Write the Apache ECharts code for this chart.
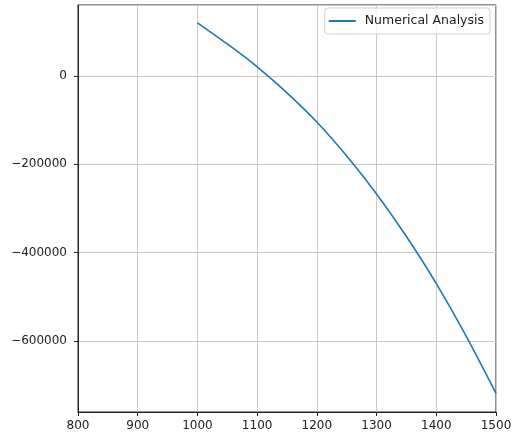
<!DOCTYPE html>
<html>
<head>
<meta charset="utf-8">
<script src="https://cdn.jsdelivr.net/npm/echarts@6/dist/echarts.min.js"></script>
<style>html,body{margin:0;padding:0;background:#fff}#c{width:526px;height:439px}</style>
</head>
<body>
<div id="c"></div>
<script>
var seriesName = 'Numerical Analysis';
var xValues = [1000, 1050, 1100, 1150, 1200, 1250, 1300, 1350, 1400, 1450, 1500];
var yValues = [120700, 72700, 21100, -37900, -104200, -181200, -267000, -363500, -470000, -589000, -718700];
var xTicks = [800, 900, 1000, 1100, 1200, 1300, 1400, 1500];
var yTicks = [-600000, -400000, -200000, 0];

var data = xValues.map(function (x, i) { return [x, yValues[i]]; });
var font = 'DejaVu Sans';
var chart = echarts.init(document.getElementById('c'), null, {renderer: 'canvas'});
chart.setOption({
  animation: false,
  grid: {left: 78, right: 30, top: 5, bottom: 27, show: true, borderColor: '#222', borderWidth: 1, containLabel: false},
  legend: {
    show: true, right: 36, top: 8,
    padding: [6, 6, 6, 4],
    itemWidth: 27, itemHeight: 2,
    icon: 'rect',
    borderColor: '#d0d0d0', borderWidth: 1, borderRadius: 3,
    backgroundColor: 'rgba(255,255,255,0.8)',
    textStyle: {fontFamily: font, fontSize: 12.5, color: '#222', padding: [0, 0, 0, 4], lineHeight: 14},
    data: [{name: seriesName, icon: 'rect', itemStyle: {color: '#1f77b4'}}]
  },
  xAxis: {
    type: 'value', min: xTicks[0], max: xTicks[xTicks.length - 1], interval: 100,
    axisLine: {show: true, onZero: false, lineStyle: {color: '#222', width: 1}},
    axisTick: {show: true, length: 4, lineStyle: {color: '#222'}},
    axisLabel: {fontFamily: font, fontSize: 12, color: '#222', margin: 8,
      formatter: function (v) { return String(v); }},
    splitLine: {show: true, lineStyle: {color: '#c8c8c8', width: 1}}
  },
  yAxis: {
    type: 'value', min: -761000, max: 161000, splitNumber: 5,
    axisLine: {show: true, onZero: false, lineStyle: {color: '#222', width: 1}},
    axisTick: {show: true, length: 4, lineStyle: {color: '#222'}},
    axisLabel: {
      fontFamily: font, fontSize: 12, color: '#222', margin: 11,
      showMinLabel: false, showMaxLabel: false,
      formatter: function (v) {
        if (yTicks.indexOf(v) < 0) return '';
        return v < 0 ? '\u2212' + Math.abs(v) : String(v);
      }
    },
    splitLine: {show: true, lineStyle: {color: '#c8c8c8', width: 1}}
  },
  series: [{
    name: seriesName, type: 'line', data: data, smooth: 0.3,
    symbol: 'none', showSymbol: false,
    lineStyle: {color: '#1f77b4', width: 1.6},
    itemStyle: {color: '#1f77b4'}
  }]
});
</script>
</body>
</html>
